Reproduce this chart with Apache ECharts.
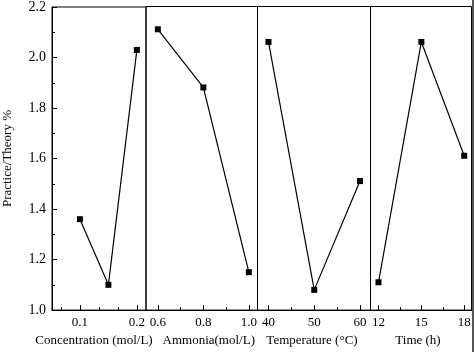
<!DOCTYPE html>
<html>
<head>
    <meta charset="UTF-8">
    <title>Practice/Theory</title>
    <script src="https://cdn.jsdelivr.net/npm/echarts/dist/echarts.min.js"></script>
    <style>
        body { margin: 0; background: #fff; }
        #chart { width: 474px; height: 352px; }
    </style>
</head>
<body>
    <div id="chart"></div>
    <script>
        // one panel per factor, shared y scale
        const panelNames = ['Concentration (mol/L)', 'Ammonia(mol/L)', 'Temperature (\u00B0C)', 'Time (h)'];
        const concX = [0.1, 0.15, 0.2];
        const concY = [1.36, 1.10, 2.03];
        const ammoniaX = [0.6, 0.8, 1.0];
        const ammoniaY = [2.11, 1.88, 1.15];
        const tempX = [40, 50, 60];
        const tempY = [2.06, 1.08, 1.51];
        const timeX = [12, 15, 18];
        const timeY = [1.11, 2.06, 1.61];

        const concTicks = [0.1, 0.2];
        const concMinor = [0.0667, 0.1333, 0.1667];
        const ammoniaTicks = [0.6, 0.8, 1.0];
        const ammoniaMinor = [0.7, 0.9];
        const tempTicks = [40, 50, 60];
        const tempMinor = [45, 55];
        const timeTicks = [12, 15, 18];
        const timeMinor = [13.5, 16.5];

        const font = '"Liberation Serif", "Times New Roman", serif';

        const panels = [
            { x: concX, y: concY, ticks: concTicks, minor: concMinor, min: 0.051, max: 0.216, left: 52, right: 146, pad: [0, 10, 0, 0], fmt: v => v.toFixed(1) },
            { x: ammoniaX, y: ammoniaY, ticks: ammoniaTicks, minor: ammoniaMinor, min: 0.548, max: 1.038, left: 146, right: 257.5, pad: [0, 0, 0, 14], fmt: v => v.toFixed(1) },
            { x: tempX, y: tempY, ticks: tempTicks, minor: tempMinor, min: 37.6, max: 62.3, left: 257.5, right: 370.5, pad: [0, 4, 0, 0], fmt: v => String(v) },
            { x: timeX, y: timeY, ticks: timeTicks, minor: timeMinor, min: 11.44, max: 18.51, left: 370.5, right: 471.5, pad: [0, 6, 0, 0], fmt: v => String(v) }
        ];

        const grid = [], xAxis = [], yAxis = [], series = [];
        panels.forEach((p, i) => {
            grid.push({
                left: p.left, width: p.right - p.left, top: 6.5, bottom: 39,
                show: true, borderColor: '#000', borderWidth: 1, backgroundColor: 'transparent'
            });
            // main x axis: labels + long ticks
            xAxis.push({
                type: 'value', gridIndex: i, min: p.min, max: p.max,
                name: panelNames[i], nameLocation: 'middle', nameGap: 21,
                nameTextStyle: { fontFamily: font, fontSize: 13, color: '#000', padding: p.pad },
                axisLine: { show: true, lineStyle: { color: '#000', width: 1 } },
                axisTick: { show: true, inside: true, length: 5, customValues: p.ticks, lineStyle: { color: '#000' } },
                axisLabel: { show: true, customValues: p.ticks, formatter: p.fmt, margin: 6,
                    fontFamily: font, fontSize: 13, color: '#000' },
                splitLine: { show: false }
            });
            // second x axis in same grid for the short ticks
            xAxis.push({
                type: 'value', gridIndex: i, min: p.min, max: p.max, position: 'bottom',
                axisLine: { show: false },
                axisTick: { show: true, inside: true, length: 3, customValues: p.minor, lineStyle: { color: '#000' } },
                axisLabel: { show: false },
                splitLine: { show: false }
            });
            yAxis.push({
                type: 'value', gridIndex: i, min: 1.0, max: 2.2, interval: 0.2,
                show: i === 0,
                name: i === 0 ? 'Practice/Theory %' : '',
                nameLocation: 'middle', nameGap: 38,
                nameTextStyle: { fontFamily: font, fontSize: 13, color: '#000' },
                axisLine: { show: true, lineStyle: { color: '#000' } },
                axisTick: { show: true, inside: true, length: 5, lineStyle: { color: '#000' } },
                minorTick: { show: true, splitNumber: 2, length: 3, lineStyle: { color: '#000' } },
                axisLabel: { fontFamily: font, fontSize: 14, color: '#000', margin: 6,
                    formatter: v => v.toFixed(1) },
                splitLine: { show: false }
            });
            series.push({
                type: 'line', xAxisIndex: i * 2, yAxisIndex: i,
                data: p.x.map((v, k) => [v, p.y[k]]),
                symbol: 'rect', symbolSize: 6, showSymbol: true,
                lineStyle: { color: '#000', width: 1.2 },
                itemStyle: { color: '#000' },
                animation: false
            });
        });

        const chart = echarts.init(document.getElementById('chart'));
        chart.setOption({
            backgroundColor: '#fff',
            animation: false,
            grid: grid,
            xAxis: xAxis,
            yAxis: yAxis,
            series: series,
            graphic: [{
                type: 'rect', shape: { x: 472, y: 0, width: 2, height: 352 },
                style: { fill: '#555' }, z: 10
            }]
        });
    </script>
</body>
</html>
